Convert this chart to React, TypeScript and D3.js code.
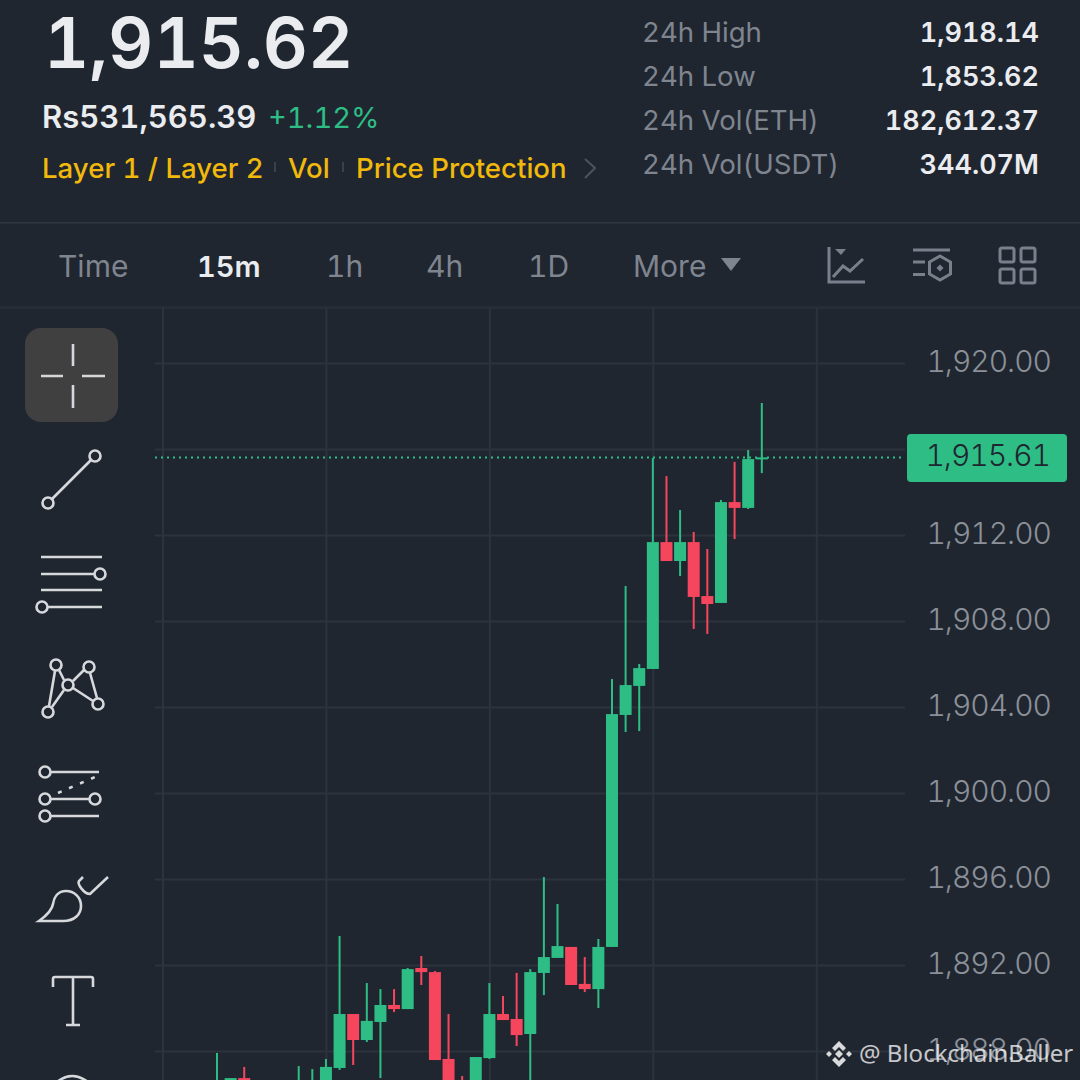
import React, { useEffect, useRef } from "react";
import * as d3 from "d3";

// candle values, left to right (slot = position on the 15m time axis)
const slots = [4, 5, 6, 7, 8, 9, 10, 11, 12, 13, 14, 15, 16, 17, 18, 19, 20, 21, 22, 23, 24, 25, 26, 27, 28, 29, 30, 31, 32, 33, 34, 35, 36, 37, 38, 39, 40, 41, 42, 43, 44];
const opens = [1886.0, 1886.2, 1886.74, 1885.5, 1885.9, 1885.6, 1885.8, 1886.2, 1886.4, 1887.21, 1889.72, 1888.51, 1889.35, 1890.14, 1889.95, 1891.86, 1891.67, 1887.63, 1886.5, 1885.9, 1887.67, 1889.72, 1889.49, 1888.79, 1891.63, 1892.33, 1892.84, 1891.12, 1890.88, 1892.84, 1903.63, 1904.98, 1905.77, 1911.67, 1910.79, 1911.67, 1909.16, 1908.84, 1913.53, 1913.26, 1915.55];
const highs = [1887.91, 1886.74, 1887.26, 1886.2, 1886.2, 1886.3, 1887.3, 1887.16, 1887.63, 1893.35, 1889.72, 1891.16, 1890.88, 1890.88, 1891.86, 1892.42, 1891.72, 1889.72, 1886.84, 1887.72, 1891.16, 1890.56, 1891.63, 1891.81, 1896.09, 1894.84, 1892.84, 1892.37, 1893.21, 1905.3, 1909.63, 1906.0, 1915.58, 1914.74, 1913.16, 1912.14, 1911.35, 1913.63, 1915.4, 1915.95, 1918.14];
const lows = [1885.8, 1886.0, 1886.0, 1885.2, 1885.2, 1885.4, 1885.5, 1885.9, 1886.1, 1887.12, 1887.35, 1888.42, 1886.74, 1889.81, 1889.95, 1891.07, 1887.58, 1886.3, 1885.9, 1885.6, 1887.63, 1889.44, 1888.23, 1886.5, 1890.6, 1892.33, 1891.07, 1890.74, 1890.0, 1892.84, 1902.84, 1902.88, 1905.77, 1910.79, 1910.09, 1907.63, 1907.4, 1908.84, 1911.81, 1913.21, 1914.88];
const closes = [1886.4, 1886.74, 1886.3, 1885.9, 1885.6, 1886.0, 1886.2, 1886.5, 1887.26, 1889.72, 1888.51, 1889.4, 1890.14, 1889.95, 1891.81, 1891.67, 1887.58, 1886.47, 1886.1, 1887.72, 1889.72, 1889.44, 1888.74, 1891.67, 1892.37, 1892.88, 1891.07, 1890.88, 1892.84, 1903.67, 1905.02, 1905.81, 1911.67, 1910.79, 1911.67, 1909.12, 1908.79, 1913.53, 1913.26, 1915.53, 1915.61];

const priceTicks = [1888, 1892, 1896, 1900, 1904, 1908, 1912, 1916, 1920];
const priceLabels = [1888, 1892, 1896, 1900, 1904, 1908, 1912, 1920]; // 1916 sits behind the last price tag
const timeTicks = [0, 12, 24, 36, 48];
const lastPrice = 1915.61;

const statLabels = ["24h High", "24h Low", "24h Vol(ETH)", "24h Vol(USDT)"];
const statValues = ["1,918.14", "1,853.62", "182,612.37", "344.07M"];
const tabs = ["Time", "15m", "1h", "4h", "1D", "More"];
const tabX = [58, 197, 326, 426, 528, 633];

const BG = "#1f2630";
const GRID = "#2c333d";
const UP = "#2ebd85";
const DOWN = "#f6465d";
const MUTED = "#7f858f";
const AXIS = "#8b9099";
const ICON = "#d6d8dc";
const FONT = "Inter, sans-serif";

const App = () => {
  const gridRef = useRef<SVGGElement>(null);
  const chartRef = useRef<SVGGElement>(null);

  useEffect(() => {
    const x = d3.scaleLinear().domain([0, 48]).range([162.5, 816.3]);
    const y = d3.scaleLinear().domain([1888, 1920]).range([1051, 363]);

    const grid = d3.select(gridRef.current);
    grid.selectAll("*").remove();

    const hGrid = grid
      .append("g")
      .attr("transform", "translate(905,0)")
      // @ts-ignore
      .call(d3.axisLeft(y).tickValues(priceTicks).tickSize(750).tickFormat(() => ""));
    hGrid.select(".domain").remove();
    hGrid.selectAll("line").attr("stroke", GRID).attr("stroke-width", 2);

    const vGrid = grid
      .append("g")
      .attr("transform", "translate(0,308)")
      // @ts-ignore
      .call(d3.axisBottom(x).tickValues(timeTicks).tickSize(772).tickFormat(() => ""));
    vGrid.select(".domain").remove();
    vGrid.selectAll("line").attr("stroke", GRID).attr("stroke-width", 2);

    const yAxis = grid
      .append("g")
      .attr("transform", "translate(1051,0)")
      // @ts-ignore
      .call(d3.axisRight(y).tickValues(priceLabels).tickSize(0).tickFormat(d3.format(",.2f")));
    yAxis.select(".domain").remove();
    yAxis
      .selectAll("text")
      .attr("x", 0)
      .attr("dy", "0.27em")
      .attr("text-anchor", "end")
      .attr("fill", AXIS)
      .attr("font-size", 30)
      .attr("font-weight", 300)
      .attr("letter-spacing", -1)
      .attr("font-family", FONT);

    const chart = d3.select(chartRef.current);
    chart.selectAll("*").remove();

    const candles = slots.map((s, i) => ({
      s,
      o: opens[i],
      h: highs[i],
      l: lows[i],
      c: closes[i],
    }));
    const color = (d: any) => (d.c >= d.o ? UP : DOWN);

    chart
      .append("g")
      .selectAll("rect")
      .data(candles)
      .enter()
      .append("rect")
      .attr("x", (d) => x(d.s) - 1)
      .attr("y", (d) => y(d.h))
      .attr("width", 2)
      .attr("height", (d) => y(d.l) - y(d.h))
      .attr("fill", color);

    chart
      .append("g")
      .selectAll("rect")
      .data(candles)
      .enter()
      .append("rect")
      .attr("x", (d) => x(d.s) - 6)
      .attr("y", (d) => y(Math.max(d.o, d.c)))
      .attr("width", 12)
      .attr("height", (d) => Math.max(2, Math.abs(y(d.o) - y(d.c))))
      .attr("fill", color);

    chart
      .append("line")
      .attr("x1", 155)
      .attr("x2", 905)
      .attr("y1", y(lastPrice))
      .attr("y2", y(lastPrice))
      .attr("stroke", UP)
      .attr("stroke-width", 2)
      .attr("stroke-dasharray", "2 4");

    chart
      .append("rect")
      .attr("x", 907)
      .attr("y", y(lastPrice) - 23.5)
      .attr("width", 160)
      .attr("height", 48)
      .attr("rx", 4)
      .attr("fill", UP);

    chart
      .append("text")
      .attr("x", 1050)
      .attr("y", y(lastPrice) + 9)
      .attr("text-anchor", "end")
      .attr("fill", BG)
      .attr("font-size", 30)
      .attr("font-weight", 300)
      .attr("letter-spacing", -1)
      .attr("font-family", FONT)
      .text(d3.format(",.2f")(lastPrice));
  }, []);

  const iconStroke = { fill: "none", stroke: ICON, strokeWidth: 2.6 };

  return (
    <svg
      width={1080}
      height={1080}
      style={{ position: "absolute", left: 0, top: 0, fontVariantNumeric: "tabular-nums" }}
      fontFamily={FONT}
    >
      <rect width={1080} height={1080} fill={BG} />

      {/* header */}
      <text x={44} y={68} fontSize={70} fontWeight={600} fill="#eaecef">1,915.62</text>
      <text x={42} y={128} fontSize={31} fontWeight={600} fill="#eaecef">Rs531,565.39</text>
      <text x={268} y={128} fontSize={29} fontWeight={400} fill={UP}>+1.12%</text>
      <g fontSize={27.6} fontWeight={500} fill="#f0b90b">
        <text x={42} y={178}>Layer 1 / Layer 2</text>
        <text x={288} y={178}>Vol</text>
        <text x={356} y={178}>Price Protection</text>
      </g>
      <rect x={274} y={162} width={2} height={10} fill="#3a414c" />
      <rect x={342} y={162} width={2} height={10} fill="#3a414c" />
      <path d="M585,159 L595,168 L585,178" fill="none" stroke="#4d535e" strokeWidth={2} />

      {statLabels.map((d, i) => (
        <text key={d} x={642} y={42 + i * 44} fontSize={27.6} fontWeight={400} fill={MUTED}>{d}</text>
      ))}
      {statValues.map((d, i) => (
        <text key={d} x={1039} y={42 + i * 44} fontSize={27} fontWeight={600} fill="#eaecef" textAnchor="end">{d}</text>
      ))}

      <rect x={0} y={222} width={1080} height={1.5} fill="#2f3640" />

      {/* interval tabs */}
      {tabs.map((d, i) => (
        <text
          key={d}
          x={tabX[i]}
          y={277}
          fontSize={d === "15m" ? 29 : 30}
          fontWeight={d === "15m" ? 600 : 400}
          fill={d === "15m" ? "#eaecef" : MUTED}
        >
          {d}
        </text>
      ))}
      <path d="M721,258 L741,258 L731,271 Z" fill={MUTED} />

      <g fill="none" stroke="#7a808b" strokeWidth={3}>
        <path d="M829,247 L829,282 L865,282" />
        <path d="M833,277 L843,266 L850,271 L863,259" />
        <path d="M835,249 L846,249 L841,255 Z" fill="#7a808b" stroke="none" />
        <path d="M913,250 L950,250 M913,262 L925,262 M913,274.5 L925,274.5" />
        <path d="M940,256 L950.5,262 L950.5,274 L940,280 L929.5,274 L929.5,262 Z" />
        <path d="M940,264.5 L943.5,268 L940,271.5 L936.5,268 Z" fill="#7a808b" stroke="none" />
        <rect x={1000} y={248} width={14} height={14} rx={2} />
        <rect x={1021} y={248} width={14} height={14} rx={2} />
        <rect x={1000} y={269} width={14} height={14} rx={2} />
        <rect x={1021} y={269} width={14} height={14} rx={2} />
      </g>

      <rect x={0} y={306} width={1080} height={3} fill="#272d37" />

      <g ref={gridRef} />
      <g ref={chartRef} />

      {/* drawing tools */}
      <rect x={25} y={328} width={93} height={94} rx={16} fill="#404040" />
      <g {...iconStroke}>
        <path d="M73,344 V366 M73,385 V408 M41,376 H63 M82,376 H105" />
        <path d="M52,499 L91,460" />
        <circle cx={48} cy={503} r={5.5} />
        <circle cx={95} cy={456} r={5.5} />
        <path d="M41,557 H102 M41,574 H94 M41,590 H102 M48,607 H102" />
        <circle cx={100} cy={574} r={5.5} />
        <circle cx={42} cy={607} r={5.5} />
        <path d="M55,671 L49,706 M59,670 L64,680 M84,670 L73,681 M90,673 L97,698 M64,690 L52,707 M73,688 L93,701" />
        <circle cx={56} cy={665} r={5.5} />
        <circle cx={89} cy={667} r={5.5} />
        <circle cx={68} cy={685} r={5.5} />
        <circle cx={48} cy={712} r={5.5} />
        <circle cx={98} cy={704} r={5.5} />
        <path d="M51,772 H99 M51,799 H89 M51,816 H99" />
        <path d="M58,793 L95,777" strokeDasharray="4 8" />
        <circle cx={45} cy={772} r={5.5} />
        <circle cx={45} cy={799} r={5.5} />
        <circle cx={95} cy={799} r={5.5} />
        <circle cx={45} cy={816} r={5.5} />
        <path d="M39,921 L63,921 C75,921 81,914 81,906 C81,897 74,891 66,891 C58,891 54,897 53,904 C52,911 46,916 39,921 Z" />
        <path d="M83,877 L79,881 C77,884 84,894 90,894 L108,877" />
        <path d="M53,987 V979 Q53,977 55,977 H91 Q93,977 93,979 V987 M73,977 V1025 M66,1025 H80" />
        <path d="M57,1082 Q72,1070 88,1082" />
      </g>

      {/* watermark */}
      <g fill="#d9dadc">
        <path d="M839,1041 L846,1048 L843,1051 L839,1047 L835,1051 L832,1048 Z" />
        <path d="M839,1067 L846,1060 L843,1057 L839,1061 L835,1057 L832,1060 Z" />
        <path d="M839,1050 L843,1054 L839,1058 L835,1054 Z" />
        <path d="M829,1051 L832,1054 L829,1057 L826,1054 Z" />
        <path d="M849,1051 L852,1054 L849,1057 L846,1054 Z" />
      </g>
      <text x={859} y={1062} fontSize={24} fontFamily="'Noto Sans', sans-serif" fill="#ffffff" fillOpacity={0.75}>@ BlockchainBaller</text>
    </svg>
  );
};

export default App;
